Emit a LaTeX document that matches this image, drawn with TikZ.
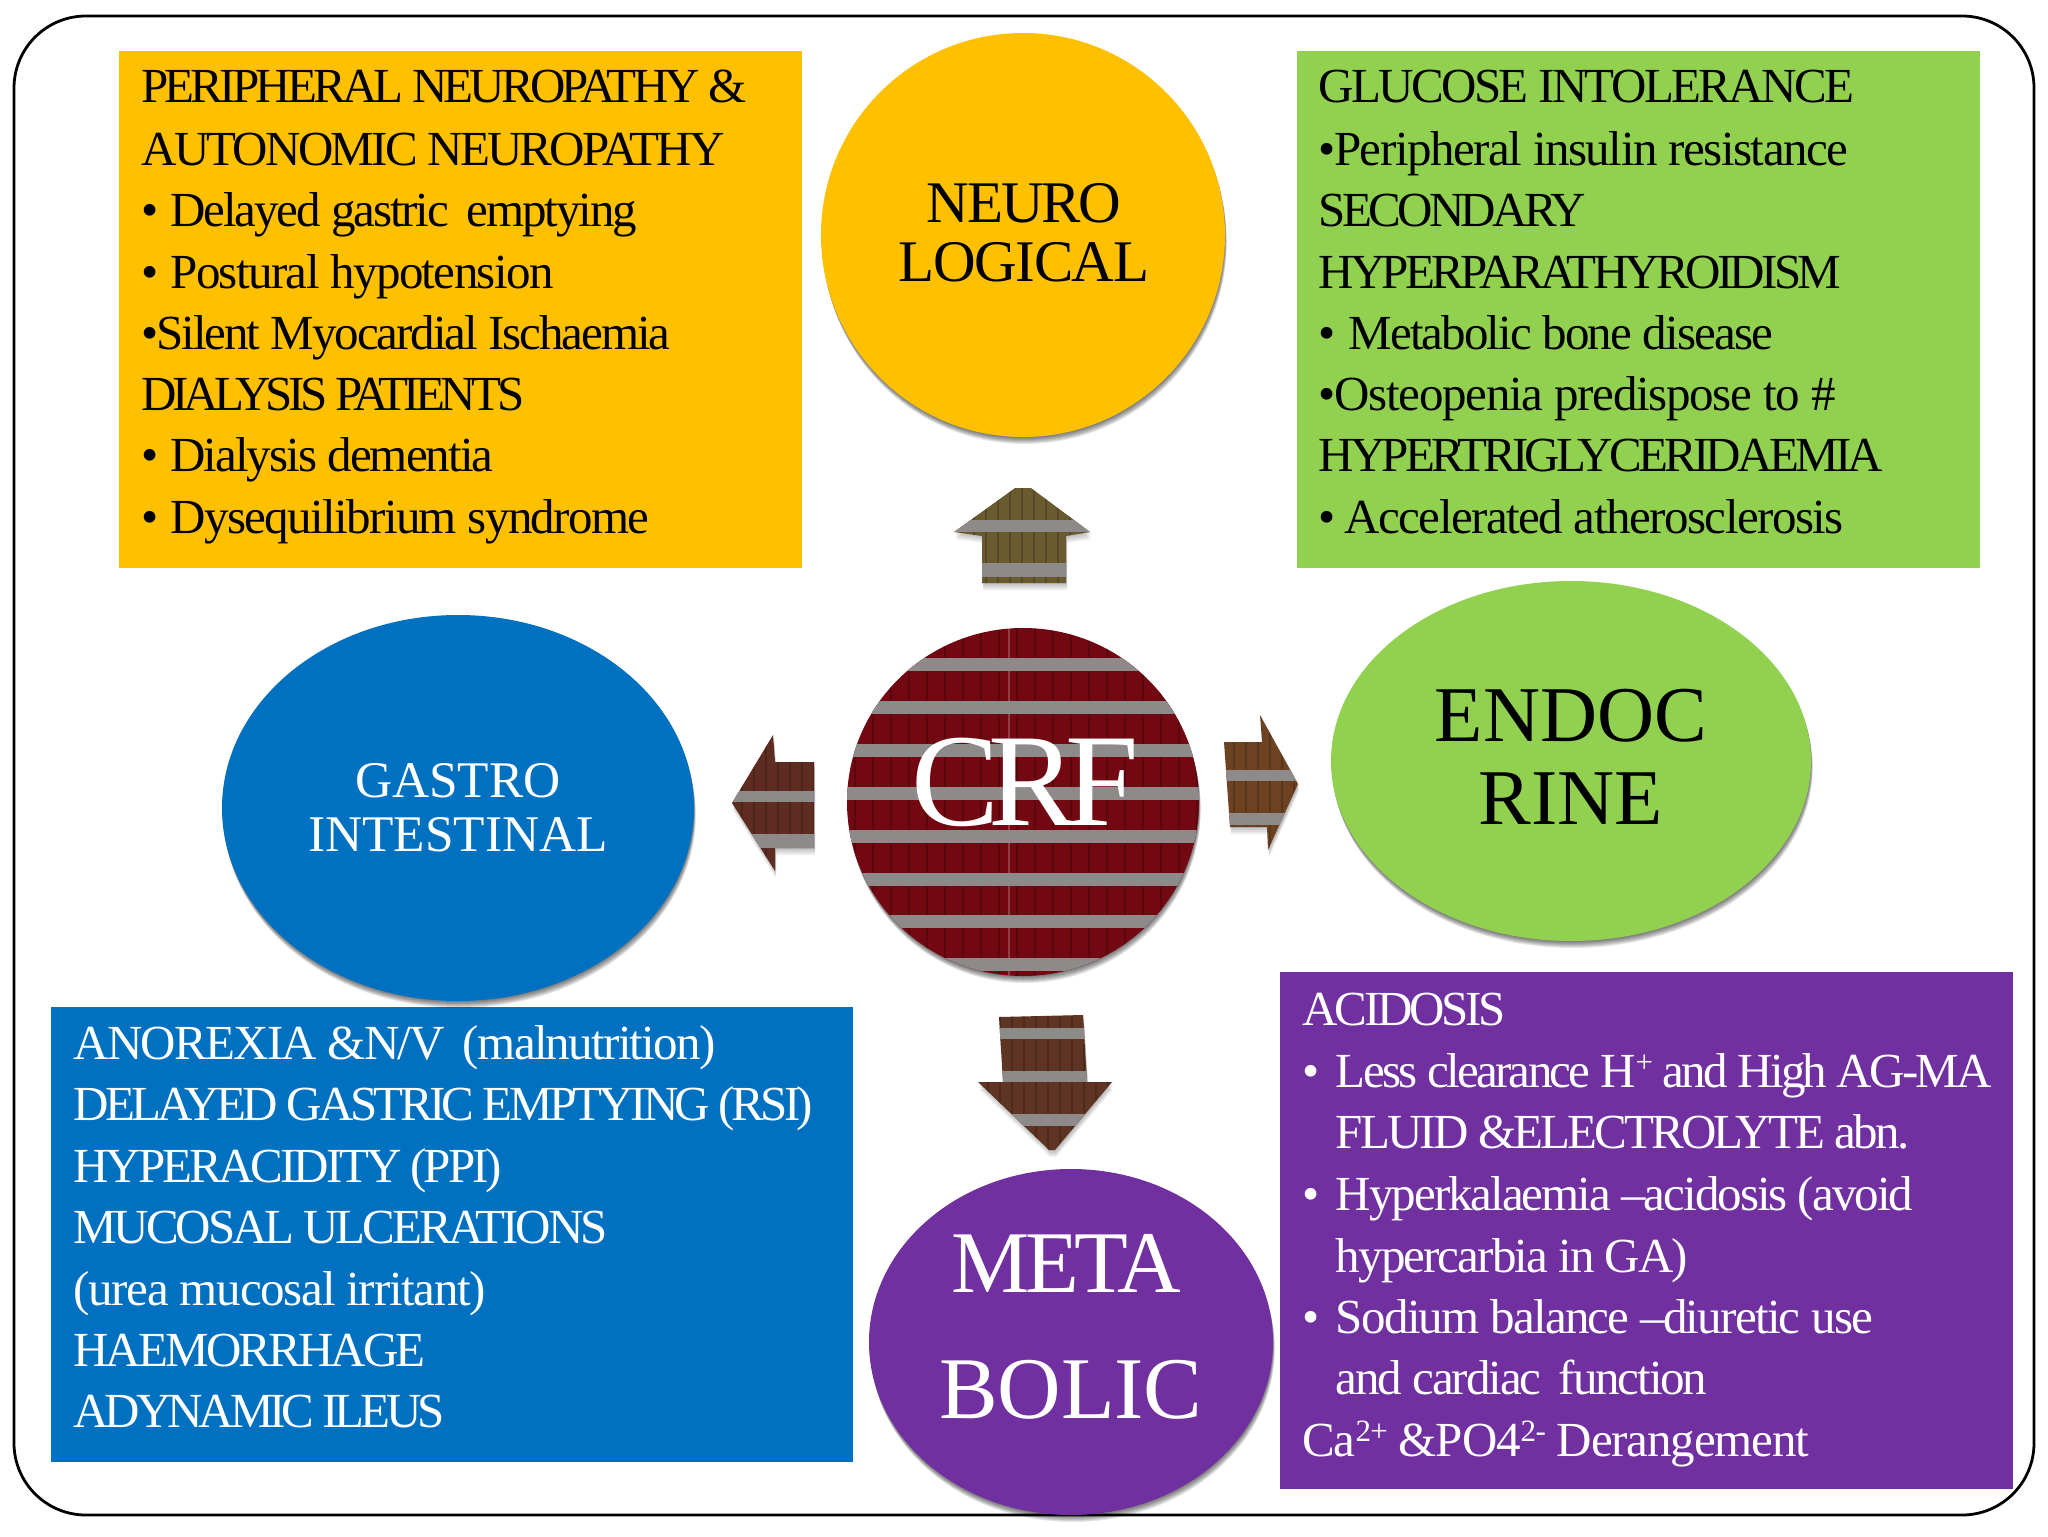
\documentclass[tikz,border=0pt]{standalone}
\usepackage{fontspec}
\usetikzlibrary{shapes.geometric}
\setmainfont{Liberation Serif}
\newcommand{\ls}[1]{\addfontfeature{LetterSpace=#1}}
\newcommand{\sups}[1]{\raisebox{7.5pt}{\fontsize{15.5}{15.5}\selectfont #1}}
\definecolor{orangeb}{HTML}{FFC000}
\definecolor{greenb}{HTML}{92D050}
\definecolor{blueb}{HTML}{0070C0}
\definecolor{purpleb}{HTML}{7030A0}
\definecolor{crfred}{HTML}{720812}
\definecolor{stripe}{HTML}{8E8A8A}
\definecolor{arrup}{HTML}{6A5A30}
\definecolor{arrlf}{HTML}{5E2C20}
\definecolor{arrrt}{HTML}{6C4222}
\definecolor{arrdn}{HTML}{5E3423}
\tikzset{
  panel/.style={fill=#1,draw=none,inner sep=0pt,anchor=north west},
  bubble/.style={ellipse,fill=#1,draw=none,inner sep=0pt},
  line/.style={anchor=base west,inner sep=0pt,font=\fontsize{24.5}{24.5}\selectfont,text=#1},
  line/.default=black,
  title/.style={anchor=base,inner sep=0pt,text=#1},
  soft/.style={fill=black,opacity=.09,draw=none}
}
% shadow beneath an ellipse: centre x, y, rx, ry (px)
\newcommand{\softshadow}[4]{\foreach \o in {1,...,7}{\fill[soft] ({#1+\o*.25},{#2+\o}) ellipse[x radius=#3,y radius=#4];}}
% block arrow: polygon, colour, stripes (y1/y2 list), x range
\newcommand{\blockarrow}[5]{%
  \foreach \o in {1,3,5,7}{\fill[soft,opacity=.07,shift={(1,\o)}] #1;}
  \begin{scope}
    \clip #1;
    \fill[#2] (#4,0) rectangle (#5,1536);
    \foreach \k in {0,...,12}{\draw[black,opacity=.18,line width=1pt] ({#4+12*\k},0) -- ({#4+12*\k},1536);}
    \foreach \ya/\yb in {#3}{\fill[stripe] (#4,\ya) rectangle (#5,\yb);}
  \end{scope}}
\begin{document}
\begin{tikzpicture}[x=0.5pt,y=-0.5pt]
\useasboundingbox (0,0) rectangle (2048,1536);
\fill[white] (0,0) rectangle (2048,1536);
\draw[black,line width=1.4pt,rounded corners=36pt] (14,16) rectangle (2034,1515);

% panels
\node[panel=orangeb,minimum width=341.5pt,minimum height=258.5pt] (pn) at (119,51) {};
\node[panel=greenb,minimum width=341.5pt,minimum height=258.5pt] (pe) at (1297,51) {};
\node[panel=blueb,minimum width=401pt,minimum height=227.5pt] (pg) at (51,1007) {};
\node[panel=purpleb,minimum width=366.5pt,minimum height=258.5pt] (pm) at (1280,972) {};

% bubbles
\softshadow{1023}{235}{202}{202}
\node[bubble=orangeb,minimum width=202pt,minimum height=202pt] (neuro) at (1023,235) {};
\softshadow{458}{808}{236}{193}
\node[bubble=blueb,minimum width=236pt,minimum height=193pt] (gastro) at (458,808) {};
\softshadow{1571}{761}{240}{180}
\node[bubble=greenb,minimum width=240pt,minimum height=180pt] (endo) at (1571,761) {};
\softshadow{1071}{1342}{202}{173}
\node[bubble=purpleb,minimum width=202pt,minimum height=173pt] (meta) at (1071,1342) {};

% CRF disc
\softshadow{1023}{802}{176}{174}
\node[bubble=crfred,minimum width=176pt,minimum height=174pt] (crf) at (1023,802) {};
\begin{scope}
  \clip (1023,802) ellipse[x radius=176,y radius=174];
  \foreach \vx in {855,873,...,1199}{\draw[black,opacity=.2,line width=1pt] (\vx,620) -- (\vx,980);}
  \draw[white,opacity=.22,line width=.6pt] (1009,620) -- (1009,980);
  \foreach \sy in {664,707,750,793,836,879,921,964}{\fill[stripe] (840,\sy-6.5) rectangle (1210,\sy+6.5);}
\end{scope}

% block arrows
\blockarrow{(1015,488)--(1031,488)--(1090,532)--(1066,536)--(1066,583)--(982,583)--(982,536)--(954,532)--cycle}{arrup}{520/532,563/577}{950}{1095}
\blockarrow{(732,803)--(773,735)--(775,762)--(814,762)--(814,848)--(775,848)--(775,871)--cycle}{arrlf}{791/802,834/848}{730}{816}
\blockarrow{(1224,742)--(1262,742)--(1260,715)--(1298,784)--(1268,850)--(1267,827)--(1230,827)--cycle}{arrrt}{770/781,813/825}{1222}{1300}
\blockarrow{(999,1017)--(1083,1015)--(1087,1082)--(1112,1082)--(1055,1150)--(1049,1150)--(978,1082)--(1003,1082)--cycle}{arrdn}{1028/1039,1071/1082,1114/1126}{976}{1114}

% bubble titles
\node[title=black,font=\fontsize{29.5}{29.5}\selectfont] (t1) at (1024,222) {\ls{-3.8}NEURO};
\node[title=black,font=\fontsize{29.5}{29.5}\selectfont] (t2) at (1024,281) {\ls{-2.5}LOGICAL};
\node[title=white,font=\fontsize{25.7}{25.7}\selectfont] (t3) at (458,797) {GASTRO};
\node[title=white,font=\fontsize{25.7}{25.7}\selectfont] (t4) at (458,851) {INTESTINAL};
\node[title=black,font=\fontsize{39.5}{39.5}\selectfont] (t5) at (1571,741) {ENDOC};
\node[title=black,font=\fontsize{39.5}{39.5}\selectfont] (t6) at (1571,824) {RINE};
\node[title=white,font=\fontsize{44}{44}\selectfont] (t7) at (1066,1292) {\ls{-4.9}META};
\node[title=white,font=\fontsize{44}{44}\selectfont] (t8) at (1071,1418) {\ls{-.2}BOLIC};
\node[title=white,font=\fontsize{66}{66}\selectfont] (t9) at (1025,825) {\ls{-8.6}CRF};

% orange text
\node[line] (a1) at (141,103) {\ls{-7.8}PERIPHERAL NEUROPATHY \&};
\node[line] (a2) at (141,165) {\ls{-5.6}AUTONOMIC NEUROPATHY};
\node[line] (a3) at (141,226.5) {•}; \node[line] (a3t) at (170,226.5) {\ls{-4.3}Delayed gastric\hspace{.15em} emptying};
\node[line] (a4) at (141,288) {•}; \node[line] (a4t) at (170,288) {\ls{-3.3}Postural hypotension};
\node[line] (a5) at (141,349) {\ls{-4.2}•Silent Myocardial Ischaemia};
\node[line] (a6) at (141,410) {\ls{-9.4}DIALYSIS PATIENTS};
\node[line] (a7) at (141,471.5) {•}; \node[line] (a7t) at (170,471.5) {\ls{-4}Dialysis dementia};
\node[line] (a8) at (141,533) {•}; \node[line] (a8t) at (170,533) {\ls{-3.3}Dysequilibrium syndrome};

% green text
\node[line] (b1) at (1318,103) {\ls{-5.3}GLUCOSE INTOLERANCE};
\node[line] (b2) at (1318,165) {\ls{-3}•Peripheral insulin resistance};
\node[line] (b3) at (1318,226.5) {\ls{-7.4}SECONDARY};
\node[line] (b4) at (1318,288) {\ls{-7.5}HYPERPARATHYROIDISM};
\node[line] (b5) at (1318,349) {•}; \node[line] (b5t) at (1348,349) {\ls{-3.8}Metabolic bone disease};
\node[line] (b6) at (1318,410) {\ls{-2.6}•Osteopenia predispose to \#};
\node[line] (b7) at (1318,471.5) {\ls{-7.7}HYPERTRIGLYCERIDAEMIA};
\node[line] (b8) at (1318,533) {•}; \node[line] (b8t) at (1344,533) {\ls{-3.1}Accelerated atherosclerosis};

% blue text
\node[line=white] (c1) at (73,1059) {\ls{-3.5}ANOREXIA \&N/V\hspace{.15em} (malnutrition)};
\node[line=white] (c2) at (73,1120) {\ls{-7.5}DELAYED GASTRIC EMPTYING (RSI)};
\node[line=white] (c3) at (73,1182) {\ls{-6.3}HYPERACIDITY (PPI)};
\node[line=white] (c4) at (73,1243) {\ls{-6.3}MUCOSAL ULCERATIONS};
\node[line=white] (c5) at (73,1305) {\ls{-2.6}(urea mucosal irritant)};
\node[line=white] (c6) at (73,1366) {\ls{-5.9}HAEMORRHAGE};
\node[line=white] (c7) at (73,1427) {\ls{-8.3}ADYNAMIC ILEUS};

% purple text
\node[line=white] (d1) at (1302,1025) {\ls{-6.6}ACIDOSIS};
\node[line=white] (d2) at (1302,1087) {•}; \node[line=white] (d2t) at (1335.5,1087) {\ls{-5.5}Less clearance H\sups{+} and High AG-MA};
\node[line=white] (d3) at (1335.5,1148) {\ls{-5.85}FLUID \&ELECTROLYTE abn.};
\node[line=white] (d4) at (1302,1210) {•}; \node[line=white] (d4t) at (1335.5,1210) {\ls{-4.1}Hyperkalaemia –acidosis (avoid};
\node[line=white] (d5) at (1335.5,1272) {\ls{-3.9}hypercarbia in GA)};
\node[line=white] (d6) at (1302,1333) {•}; \node[line=white] (d6t) at (1335.5,1333) {\ls{-3.5}Sodium balance –diuretic use};
\node[line=white] (d7) at (1335.5,1394.6) {\ls{-4.3}and cardiac\hspace{.15em} function};
\node[line=white] (d8) at (1302,1456) {\ls{-2.4}Ca\sups{2+} \&PO4\sups{2-} Derangement};
\end{tikzpicture}
\end{document}
